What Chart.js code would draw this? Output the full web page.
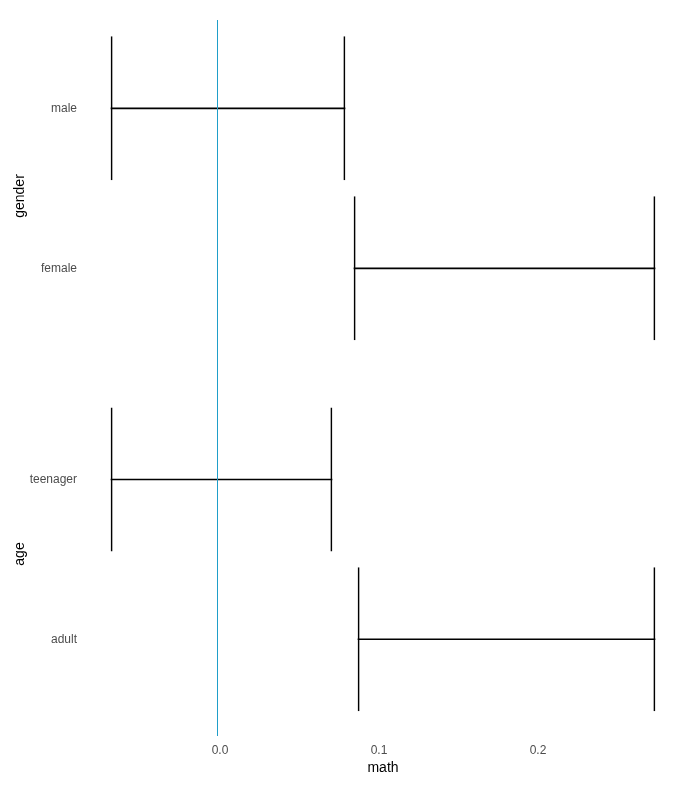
<!DOCTYPE html>
<html>
<head>
<meta charset="utf-8">
<title>math intervals</title>
<script src="https://cdn.jsdelivr.net/npm/chart.js@4/dist/chart.umd.min.js"></script>
<style>
    body { margin: 0; background: #fff; }
    #wrap { width: 692px; height: 785px; position: relative; }
    .panel { position: absolute; left: 0; width: 692px; }
    #genderPanel { top: 0; height: 372px; }
    #agePanel { top: 372px; height: 413px; }
</style>
</head>
<body>
<div id="wrap">
    <div class="panel" id="genderPanel"><canvas id="genderChart"></canvas></div>
    <div class="panel" id="agePanel"><canvas id="ageChart"></canvas></div>
</div>
<script>
// values
const genderLabels = ['male', 'female'];
const genderLow = [-0.0669, 0.0856];
const genderHigh = [0.0805, 0.2752];

const ageLabels = ['teenager', 'adult'];
const ageLow = [-0.0669, 0.0887];
const ageHigh = [0.0723, 0.2752];

const xTicks = [0.0, 0.1, 0.2];
const referenceValue = 0;

const FONT = "'Liberation Sans', Arial, sans-serif";
const TICK_COLOR = '#4d4d4d';
const REF_COLOR = '#1f9ec9';
const LINE_W = 1;

function intervalDatasets(labels, low, high) {
    const points = labels.map((_, i) => ({ y: i, x: [low[i], high[i]] }));
    return [
        {
            // end caps: only the left/right borders of a floating bar
            data: points,
            backgroundColor: 'rgba(0,0,0,0)',
            borderColor: '#000',
            borderWidth: { left: LINE_W, right: LINE_W, top: 0, bottom: 0 },
            borderSkipped: false,
            barThickness: 144,
            grouped: false
        },
        {
            // the horizontal line of the interval
            data: points,
            backgroundColor: '#000',
            borderWidth: 0,
            barThickness: LINE_W,
            grouped: false
        }
    ];
}

const refLinePlugin = {
    id: 'refLine',
    afterDatasetsDraw(chart) {
        const { ctx, chartArea, scales } = chart;
        const x = Math.round(scales.x.getPixelForValue(referenceValue)) + 0.5;
        ctx.save();
        ctx.strokeStyle = REF_COLOR;
        ctx.lineWidth = 1;
        ctx.beginPath();
        ctx.moveTo(x, chartArea.top);
        ctx.lineTo(x, chartArea.bottom);
        ctx.stroke();
        ctx.restore();
    }
};

function buildPanel(canvasId, labels, low, high, title, yMin, yMax, showX) {
    const ctx = document.getElementById(canvasId).getContext('2d');
    return new Chart(ctx, {
        type: 'bar',
        data: { datasets: intervalDatasets(labels, low, high) },
        options: {
            indexAxis: 'y',
            responsive: true,
            maintainAspectRatio: false,
            animation: false,
            layout: { padding: { top: showX ? 0 : 20, right: 10, bottom: 0, left: 0 } },
            plugins: {
                legend: { display: false },
                tooltip: { enabled: false }
            },
            scales: {
                x: {
                    type: 'linear',
                    display: showX,
                    alignToPixels: true,
                    min: -0.084,
                    max: 0.2923,
                    grid: { display: false, drawTicks: false },
                    border: { display: false },
                    afterBuildTicks: scale => {
                        scale.ticks = xTicks.map(v => ({ value: v }));
                    },
                    afterFit: scale => {
                        scale.height = showX ? 49 : 0;
                        scale.paddingLeft = 0;
                        scale.paddingRight = 0;
                    },
                    ticks: {
                        padding: 7,
                        labelOffset: 3,
                        color: TICK_COLOR,
                        font: { family: FONT, size: 12 },
                        callback: value => value.toFixed(1)
                    },
                    title: {
                        display: true,
                        text: 'math',
                        color: '#000',
                        font: { family: FONT, size: 14 },
                        padding: { top: 2, bottom: 8 }
                    }
                },
                y: {
                    type: 'linear',
                    reverse: true,
                    offset: false,
                    min: yMin,
                    max: yMax,
                    grid: { display: false, drawTicks: false },
                    border: { display: false },
                    afterBuildTicks: scale => {
                        scale.ticks = labels.map((_, i) => ({ value: i }));
                    },
                    afterFit: scale => {
                        scale.width = 84;
                        scale.paddingTop = 0;
                        scale.paddingBottom = 0;
                    },
                    ticks: {
                        autoSkip: false,
                        padding: 7,
                        color: TICK_COLOR,
                        font: { family: FONT, size: 12 },
                        callback: value => labels[value]
                    },
                    title: {
                        display: true,
                        text: title,
                        color: '#000',
                        font: { family: FONT, size: 14 },
                        padding: { top: 12, bottom: 0 }
                    }
                }
            }
        },
        plugins: [refLinePlugin]
    });
}

buildPanel('genderChart', genderLabels, genderLow, genderHigh, 'gender', -0.552, 1.648, false);
buildPanel('ageChart', ageLabels, ageLow, ageHigh, 'age', -0.673, 1.606, true);
</script>
</body>
</html>
